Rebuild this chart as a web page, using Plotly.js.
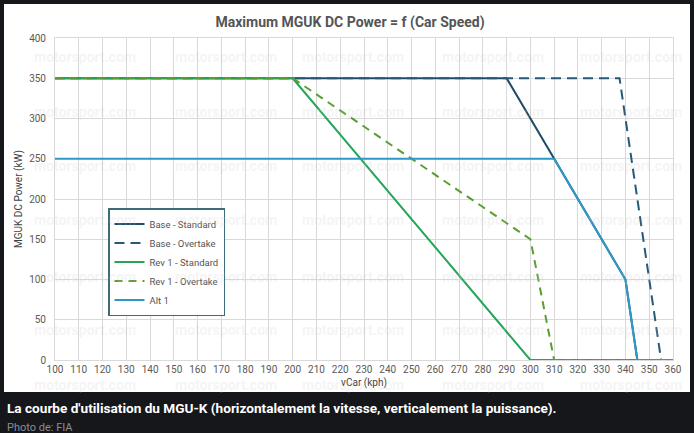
<!DOCTYPE html>
<html>
<head>
<meta charset="utf-8">
<script src="https://cdn.plot.ly/plotly-3.0.1.min.js"></script>
<style>
html,body{margin:0;padding:0;background:#16171b;}
#chart{width:694px;height:433px;}
</style>
</head>
<body>
<div id="chart"></div>
<script>
// Data (speed in kph, power in kW)
const baseStdX = [100, 290, 340, 345, 360];
const baseStdY = [350, 350, 100, 0, 0];
const baseOvtX = [100, 337.5, 355, 360];
const baseOvtY = [350, 350, 0, 0];
const rev1StdX = [100, 200, 300, 345];
const rev1StdY = [350, 350, 0, 0];
const rev1OvtX = [100, 200, 300, 310, 345];
const rev1OvtY = [350, 350, 150, 0, 0];
const alt1X = [100, 310, 340, 345, 360];
const alt1Y = [250, 250, 100, 0, 0];
const seriesNames = ["Base - Standard", "Base - Overtake", "Rev 1 - Standard", "Rev 1 - Overtake", "Alt 1"];
const xTicks = [100,110,120,130,140,150,160,170,180,190,200,210,220,230,240,250,260,270,280,290,300,310,320,330,340,350,360];
const yTicks = [0,50,100,150,200,250,300,350,400];

const wmRowsPx = [57, 112, 166, 220, 277, 330, 385];
const wmColsPx = [85, 226, 353, 493, 631];

const L = 55, R = 21, T = 38, B = 73, W = 694, H = 433;
const pw = W - L - R, ph = H - T - B;
const px2x = p => (p - L) / pw;
const py2y = p => (H - B - p) / ph;

const traces = [
  {x: baseStdX, y: baseStdY, name: seriesNames[0], mode: 'lines', line: {color: '#1f4a68', width: 2}},
  {x: baseOvtX, y: baseOvtY, name: seriesNames[1], mode: 'lines', line: {color: '#255a78', width: 2, dash: '10px,6px'}},
  {x: rev1StdX, y: rev1StdY, name: seriesNames[2], mode: 'lines', line: {color: '#25a558', width: 2}},
  {x: rev1OvtX, y: rev1OvtY, name: seriesNames[3], mode: 'lines', line: {color: '#5a9e32', width: 2, dash: '8px,6px'}},
  {x: alt1X, y: alt1Y, name: seriesNames[4], mode: 'lines', line: {color: '#2e98c8', width: 2}}
];

const annotations = [];
wmRowsPx.forEach(r => wmColsPx.forEach(c => {
  annotations.push({xref: 'paper', yref: 'paper', x: px2x(c), y: py2y(r), text: 'motorsport.com',
    showarrow: false, xanchor: 'center', yanchor: 'middle',
    font: {family: 'Roboto, sans-serif', size: 14, color: 'rgba(200,200,200,0.2)', weight: 700}});
}));
annotations.push({xref: 'paper', yref: 'paper', x: px2x(5), y: py2y(408), xanchor: 'left', yanchor: 'middle',
  text: "La courbe d'utilisation du MGU-K (horizontalement la vitesse, verticalement la puissance).",
  showarrow: false, font: {family: 'Roboto, sans-serif', size: 13.6, color: '#ffffff', weight: 700}});
annotations.push({xref: 'paper', yref: 'paper', x: px2x(5), y: py2y(427), xanchor: 'left', yanchor: 'middle',
  text: 'Photo de: FIA', showarrow: false, font: {family: 'Roboto, sans-serif', size: 11, color: '#8a8d93'}});

const layout = {
  width: W, height: H,
  margin: {l: L, r: R, t: T, b: B, pad: 0},
  paper_bgcolor: '#16171b',
  plot_bgcolor: '#ffffff',
  font: {family: 'Roboto, sans-serif', color: '#595959', size: 10},
  title: {text: 'Maximum MGUK DC Power = f (Car Speed)', font: {family: 'Roboto, sans-serif', size: 14, color: '#555555', weight: 700},
    x: px2x(350), xref: 'paper', xanchor: 'center', y: 1 - 22 / H, yanchor: 'middle'},
  xaxis: {range: [100, 360], tickvals: xTicks, ticktext: xTicks.map(String), showgrid: true, gridcolor: '#d9d9d9', gridwidth: 1,
    showline: true, linecolor: '#d9d9d9', mirror: true, zeroline: false, ticks: '', ticklen: 0,
    tickfont: {size: 10, color: '#595959'},
    title: {text: 'vCar (kph)', font: {size: 10, color: '#404040'}, standoff: 4}},
  yaxis: {range: [0, 400], tickvals: yTicks, ticktext: yTicks.map(String), showgrid: true, gridcolor: '#d9d9d9', gridwidth: 1,
    showline: true, linecolor: '#d9d9d9', mirror: true, zeroline: false, ticks: 'outside', ticklen: 6, tickcolor: 'rgba(0,0,0,0)',
    tickfont: {size: 10, color: '#595959'},
    title: {text: 'MGUK DC Power (kW)', font: {size: 10, color: '#404040'}, standoff: 4}},
  legend: {x: px2x(108), y: py2y(208), xanchor: 'left', yanchor: 'top', bgcolor: '#ffffff', bordercolor: '#3d6b78', borderwidth: 1.5,
    font: {size: 9.5, color: '#555555'}, tracegroupgap: 0},
  shapes: [
    {type: 'rect', xref: 'paper', yref: 'paper', layer: 'below', x0: px2x(4), x1: px2x(690), y0: py2y(392), y1: py2y(4),
      fillcolor: '#ffffff', line: {width: 0}}
  ],
  annotations: annotations
};

Plotly.newPlot('chart', traces, layout, {staticPlot: true, displayModeBar: false});
</script>
</body>
</html>
